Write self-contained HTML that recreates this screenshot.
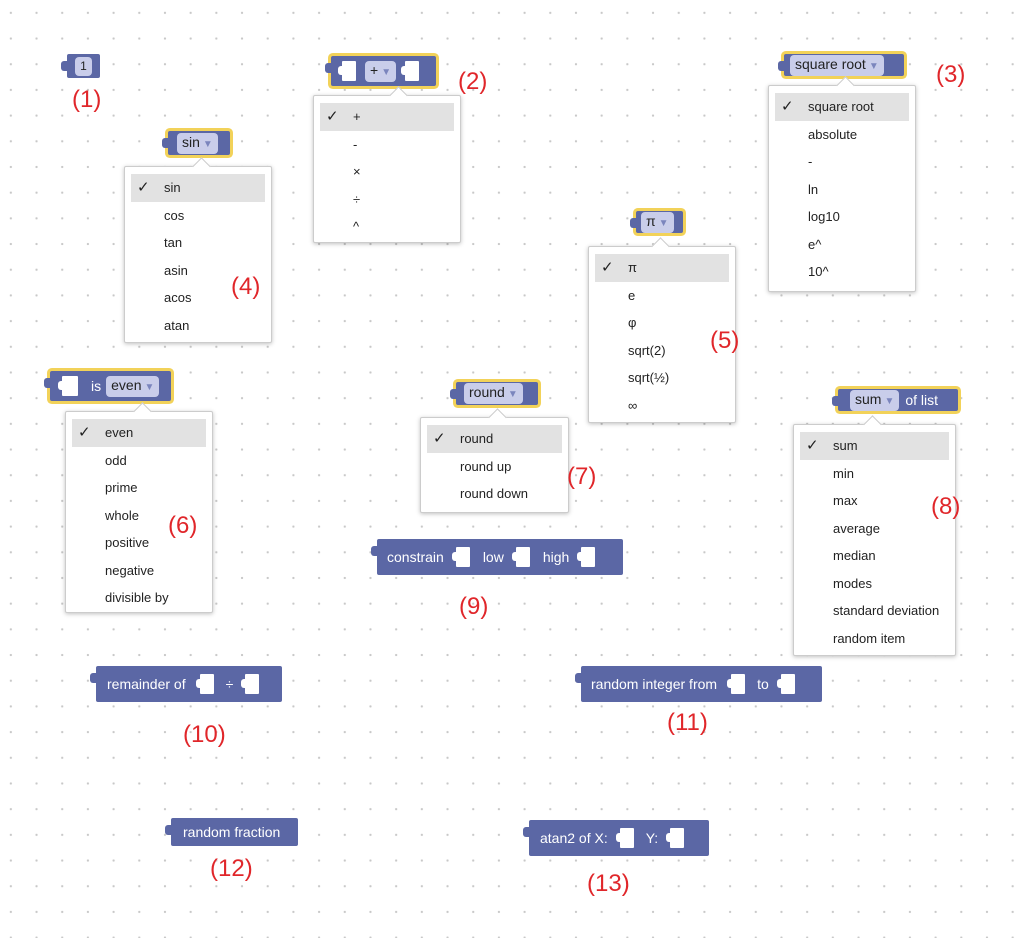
<!DOCTYPE html>
<html><head><meta charset="utf-8"><style>
body{margin:0;width:1019px;height:938px;position:relative;overflow:hidden;background:#fff;
background-image:radial-gradient(circle,#c8c8c8 1px,transparent 1.3px);background-size:25.7px 25.7px;background-position:-2px 0px;
font-family:"Liberation Sans",sans-serif;}
.b{position:absolute;background:#5b67a5;color:#fff;font-size:14px;border-radius:2px;box-sizing:border-box;display:flex;align-items:center;white-space:nowrap}
.b::before{content:"";position:absolute;left:-6px;top:7px;width:7px;height:10px;background:#5b67a5;border-radius:3px 0 0 3px}
.sel{box-shadow:0 0 0 3px #f2d259}
.f{background:#c9cdea;color:#222;border-radius:4px;padding:1px 5px;font-size:14px;line-height:17px}
.f i{font-style:normal;color:#7b85bd;font-size:10px;margin-left:3px}
.in{display:inline-block;background:#fff;width:14px;height:20px;border-radius:1px;margin:0 3px;position:relative}
.in::before{content:"";position:absolute;left:-4px;top:5px;width:5px;height:9px;background:#fff;border-radius:3px 0 0 3px}
.in.y{background:#fff}
.m{position:absolute;background:#fff;border:1px solid #ccc;border-radius:2px;box-shadow:0 1px 4px rgba(0,0,0,.25);box-sizing:border-box;padding-top:7px;font-size:13px;color:#222}
.m::before{content:"";position:absolute;left:var(--ax);top:-7px;width:12px;height:12px;background:#fff;border-left:1px solid #ccc;border-top:1px solid #ccc;transform:rotate(45deg)}
.m div{height:27.5px;line-height:27.5px;padding-left:33px;margin:0 6px;position:relative}
.m div.h{background:#e2e2e2}
.m div.h::before{content:"✓";position:absolute;left:6px;font-size:15px}
.l{position:absolute;color:#e0262a;font-size:24px;line-height:28px}
</style></head><body>

<!-- 1 -->
<div class="b" style="left:67px;top:54px;width:33px;height:24px;justify-content:center"><span class="f" style="padding:1px 5px;font-size:12px">1</span></div>
<div class="l" style="left:72px;top:86px">(1)</div>

<!-- 2 -->
<div class="b sel" style="left:331px;top:56px;width:105px;height:30px;padding-left:8px"><span class="in"></span><span class="f" style="margin:0 6px">+<i>▼</i></span><span class="in"></span></div>
<div class="m" style="left:313px;top:95px;width:148px;height:148px;--ax:78px"><div class="h">+</div><div>-</div><div>×</div><div>÷</div><div>^</div></div>
<div class="l" style="left:458px;top:68px">(2)</div>

<!-- 3 -->
<div class="b sel" style="left:784px;top:54px;width:120px;height:22px;padding-left:6px"><span class="f">square root<i>▼</i></span></div>
<div class="m" style="left:768px;top:85px;width:148px;height:207px;--ax:70px"><div class="h">square root</div><div>absolute</div><div>-</div><div>ln</div><div>log10</div><div>e^</div><div>10^</div></div>
<div class="l" style="left:936px;top:61px">(3)</div>

<!-- 4 -->
<div class="b sel" style="left:168px;top:131px;width:62px;height:24px;padding-left:9px"><span class="f">sin<i>▼</i></span></div>
<div class="m" style="left:124px;top:166px;width:148px;height:177px;--ax:70px"><div class="h">sin</div><div>cos</div><div>tan</div><div>asin</div><div>acos</div><div>atan</div></div>
<div class="l" style="left:231px;top:273px">(4)</div>

<!-- 5 -->
<div class="b sel" style="left:636px;top:211px;width:47px;height:22px;padding-left:5px"><span class="f">π<i>▼</i></span></div>
<div class="m" style="left:588px;top:246px;width:148px;height:177px;--ax:65px"><div class="h">π</div><div>e</div><div>φ</div><div>sqrt(2)</div><div>sqrt(½)</div><div>∞</div></div>
<div class="l" style="left:710px;top:327px">(5)</div>

<!-- 6 -->
<div class="b sel" style="left:50px;top:371px;width:121px;height:30px;padding-left:9px"><span class="in" style="width:16px"></span><span style="margin:0 5px 0 10px">is</span><span class="f">even<i>▼</i></span></div>
<div class="m" style="left:65px;top:411px;width:148px;height:202px;--ax:70px"><div class="h">even</div><div>odd</div><div>prime</div><div>whole</div><div>positive</div><div>negative</div><div>divisible by</div></div>
<div class="l" style="left:168px;top:512px">(6)</div>

<!-- 7 -->
<div class="b sel" style="left:456px;top:382px;width:82px;height:23px;padding-left:8px"><span class="f">round<i>▼</i></span></div>
<div class="m" style="left:420px;top:417px;width:149px;height:96px;--ax:70px"><div class="h">round</div><div>round up</div><div>round down</div></div>
<div class="l" style="left:567px;top:463px">(7)</div>

<!-- 8 -->
<div class="b sel" style="left:838px;top:389px;width:120px;height:22px;padding-left:12px"><span class="f">sum<i>▼</i></span><span style="margin-left:6px">of list</span></div>
<div class="m" style="left:793px;top:424px;width:163px;height:232px;--ax:72px"><div class="h">sum</div><div>min</div><div>max</div><div>average</div><div>median</div><div>modes</div><div>standard deviation</div><div>random item</div></div>
<div class="l" style="left:931px;top:493px">(8)</div>

<!-- 9 -->
<div class="b" style="left:377px;top:539px;width:246px;height:36px;padding-left:10px">constrain<span class="in" style="margin-left:12px;margin-right:13px"></span>low<span class="in" style="margin-left:12px;margin-right:13px"></span>high<span class="in" style="margin-left:12px"></span></div>
<div class="l" style="left:459px;top:593px">(9)</div>

<!-- 10 -->
<div class="b" style="left:96px;top:666px;width:186px;height:36px;padding-left:11px">remainder of<span class="in" style="margin-left:14px;margin-right:12px"></span>÷<span class="in" style="margin-left:12px"></span></div>
<div class="l" style="left:183px;top:721px">(10)</div>

<!-- 11 -->
<div class="b" style="left:581px;top:666px;width:241px;height:36px;padding-left:10px">random integer from<span class="in" style="margin-left:14px;margin-right:12px"></span>to<span class="in" style="margin-left:12px"></span></div>
<div class="l" style="left:667px;top:709px">(11)</div>

<!-- 12 -->
<div class="b" style="left:171px;top:818px;width:127px;height:28px;padding-left:12px">random fraction</div>
<div class="l" style="left:210px;top:855px">(12)</div>

<!-- 13 -->
<div class="b" style="left:529px;top:820px;width:180px;height:36px;padding-left:11px">atan2 of X:<span class="in" style="margin-left:12px;margin-right:12px"></span>Y:<span class="in" style="margin-left:12px"></span></div>
<div class="l" style="left:587px;top:870px">(13)</div>

</body></html>
